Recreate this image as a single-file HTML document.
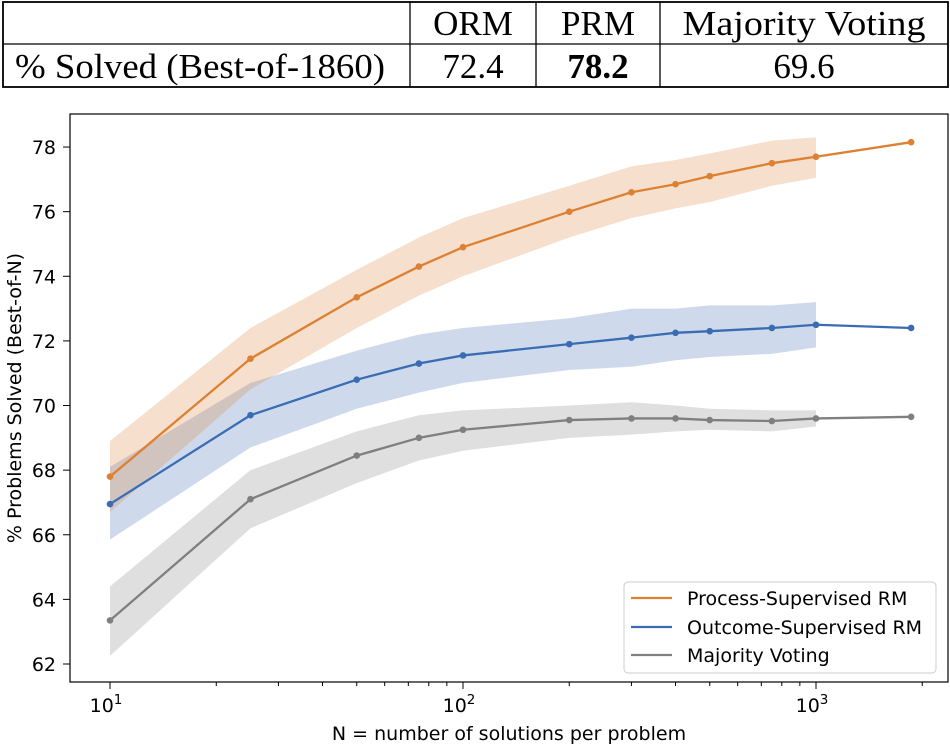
<!DOCTYPE html><html><head><style>
body{margin:0;background:#fff;width:950px;height:745px;overflow:hidden;font-family:"DejaVu Sans",sans-serif}
svg{position:absolute;left:0;top:0}
</style></head><body>
<svg id="s" width="950" height="745" xmlns="http://www.w3.org/2000/svg">
<g stroke="#000" stroke-width="1.3" fill="none">
<rect x="3" y="2" width="945" height="85" stroke-width="1.8"/>
<line x1="3" y1="44" x2="948" y2="44"/>
<line x1="410" y1="2" x2="410" y2="87"/>
<line x1="536" y1="2" x2="536" y2="87"/>
<line x1="660" y1="2" x2="660" y2="87"/>
</g>
<g font-family="'Liberation Serif',serif" font-size="35" text-anchor="middle" fill="#000">
<text x="473" y="35">ORM</text><text x="598" y="35">PRM</text><text x="804" y="35" textLength="243" lengthAdjust="spacingAndGlyphs">Majority Voting</text>
<text x="200" y="78" textLength="370" lengthAdjust="spacingAndGlyphs">% Solved (Best-of-1860)</text><text x="473" y="78">72.4</text>
<text x="598" y="78" font-weight="bold">78.2</text><text x="804" y="78">69.6</text>
</g>
<g id="plot"></g>
</svg>
<script>
const X=n=>110+353*Math.log10(n/10), Y=v=>664-(v-62)*32.31;
const N=[10,25,50,75,100,200,300,400,500,750,1000,1860];
const S=[
{c:"#7f7f7f",f:"rgba(127,127,127,0.25)",v:[63.35,67.1,68.45,69.0,69.25,69.55,69.6,69.6,69.55,69.52,69.6,69.65],
lo:[62.25,66.2,67.6,68.3,68.6,69.0,69.1,69.2,69.25,69.2,69.35],hi:[64.4,68.0,69.2,69.7,69.85,70.0,70.1,70.0,69.9,69.85,69.85]},
{c:"#3a6cb4",f:"rgba(58,108,180,0.25)",v:[66.95,69.7,70.8,71.3,71.55,71.9,72.1,72.25,72.3,72.4,72.5,72.4],
lo:[65.85,68.7,69.9,70.4,70.7,71.1,71.2,71.4,71.5,71.6,71.8],hi:[68.1,70.7,71.7,72.2,72.4,72.7,73.0,73.0,73.1,73.1,73.2]},
{c:"#dd8032",f:"rgba(221,128,50,0.25)",v:[67.8,71.45,73.35,74.3,74.9,76.0,76.6,76.85,77.1,77.5,77.7,78.15],
lo:[66.7,70.5,72.4,73.4,74.0,75.2,75.8,76.1,76.3,76.8,77.05],hi:[68.9,72.4,74.2,75.2,75.8,76.8,77.4,77.6,77.8,78.2,78.3]}];
let h="";
for(const s of S){let p=s.hi.map((v,i)=>X(N[i])+","+Y(v));for(let i=s.lo.length-1;i>=0;i--)p.push(X(N[i])+","+Y(s.lo[i]));
h+=`<polygon points="${p.join(" ")}" fill="${s.f}"/>`;}
for(const s of S){h+=`<polyline points="${s.v.map((v,i)=>X(N[i])+","+Y(v)).join(" ")}" fill="none" stroke="${s.c}" stroke-width="2.3"/>`;
s.v.forEach((v,i)=>h+=`<circle cx="${X(N[i])}" cy="${Y(v)}" r="3.3" fill="${s.c}"/>`);}
h+=`<rect x="70" y="114" width="878" height="568" fill="none" stroke="#000" stroke-width="1.2"/>`;
for(let v=62;v<=78;v+=2){const y=Y(v);h+=`<line x1="63" y1="${y}" x2="70" y2="${y}" stroke="#000"/><text x="56" y="${y+7}" font-size="19" text-anchor="end">${v}</text>`;}
for(let d=0;d<3;d++)for(let m=1;m<10;m++){const n=Math.pow(10,d+1)*m;const x=X(n);if(x<70||x>948)continue;
h+=`<line x1="${x}" y1="682" x2="${x}" y2="${m==1?689:686}" stroke="#000"/>`;}
for(let d=1;d<=3;d++)h+=`<text x="${X(Math.pow(10,d))-4}" y="712" font-size="19" text-anchor="middle">10<tspan dy="-8" font-size="13.5">${d}</tspan></text>`;
h+=`<text x="509" y="740" font-size="19" text-anchor="middle">N = number of solutions per problem</text>`;
h+=`<text transform="translate(21,398) rotate(-90)" font-size="19" text-anchor="middle">% Problems Solved (Best-of-N)</text>`;
h+=`<rect x="624" y="582" width="312" height="91" rx="4" fill="#fff" fill-opacity="0.85" stroke="#ccc"/>`;
[["Process-Supervised RM","#dd8032",598],["Outcome-Supervised RM","#3a6cb4",627],["Majority Voting","#7f7f7f",655]].forEach(([t,c,y])=>{
h+=`<line x1="631" y1="${y}" x2="672" y2="${y}" stroke="${c}" stroke-width="2.3"/><text x="687" y="${y+7}" font-size="19">${t}</text>`;});
document.getElementById("plot").innerHTML=h;
</script>
</body></html>
